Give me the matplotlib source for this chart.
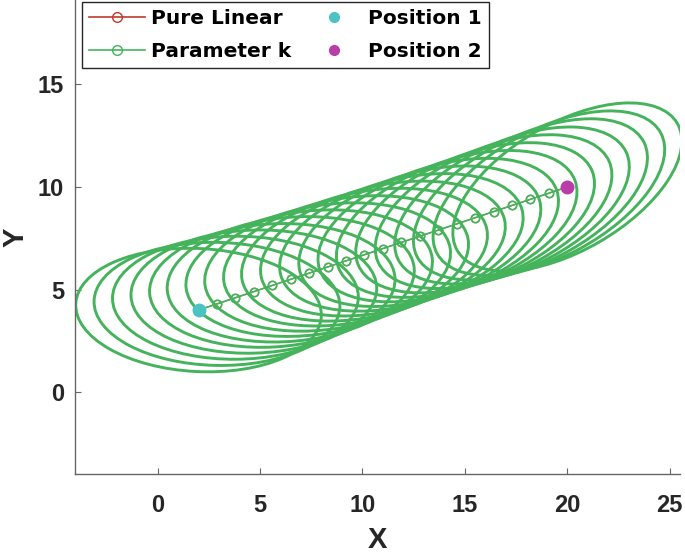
import numpy as np
import matplotlib
matplotlib.use("Agg")
import matplotlib.pyplot as plt
from matplotlib.patches import Ellipse
from matplotlib.lines import Line2D

plt.rcParams["font.family"] = ["Liberation Sans", "DejaVu Sans"]
plt.rcParams["font.weight"] = "bold"

# ellipse centres, from Position 1 to Position 2
cx = [2.0, 2.9, 3.8, 4.7, 5.6, 6.5, 7.4, 8.3, 9.2, 10.1, 11.0,
      11.9, 12.8, 13.7, 14.6, 15.5, 16.4, 17.3, 18.2, 19.1, 20.0]
cy = [4.0, 4.3, 4.6, 4.9, 5.2, 5.5, 5.8, 6.1, 6.4, 6.7, 7.0,
      7.3, 7.6, 7.9, 8.2, 8.5, 8.8, 9.1, 9.4, 9.7, 10.0]
# semi axes and tilt (deg) of each ellipse, estimated
semi_a = [6.0, 6.0, 6.0, 6.0, 6.0, 6.05, 6.05, 6.05, 6.05, 6.1, 6.1,
          6.1, 6.1, 6.1, 6.15, 6.15, 6.15, 6.15, 6.2, 6.2, 6.2]
semi_b = [3.0, 3.0, 3.0, 3.0, 3.0, 3.02, 3.02, 3.03, 3.04, 3.05, 3.05,
          3.06, 3.07, 3.08, 3.08, 3.09, 3.1, 3.1, 3.1, 3.1, 3.1]
tilt = [-3.0, -1.3, 0.4, 2.0, 3.6, 5.3, 7.0, 8.6, 10.2, 11.9, 13.5,
        15.1, 16.8, 18.4, 20.1, 21.7, 23.4, 25.0, 26.7, 28.3, 30.0]

pos1 = (2.0, 4.0)
pos2 = (20.0, 10.0)

GREEN = "#45b35c"
RED = "#c0392b"
CYAN = "#4cc3c3"
MAGENTA = "#b93ca8"

fig = plt.figure(figsize=(6.85, 5.53), dpi=100)
ax = fig.add_axes([75 / 685, 1 - 474.3 / 553, 605 / 685, 474.3 / 553])

# pure linear path sits underneath and is hidden by the k-path
ax.plot(cx, cy, color=RED, lw=0.8, marker="o", ms=6, mfc="none",
        mec=RED, mew=0.8, zorder=1)

for x, y, a, b, t in zip(cx, cy, semi_a, semi_b, tilt):
    ax.add_patch(Ellipse((x, y), 2 * a, 2 * b, angle=t, fill=False,
                         ec=GREEN, lw=2.1, zorder=2))

ax.plot(cx, cy, color=GREEN, lw=1.2, marker="o", ms=6,
        mfc="none", mec=GREEN, mew=1.2, zorder=3)
ax.plot(*pos1, "o", ms=9, color=CYAN, zorder=5)
ax.plot(*pos2, "o", ms=9, color=MAGENTA, zorder=5)

ax.set_xlim(-4.03, 25.5)
ax.set_ylim(-4.01, 19.12)
ax.set_xticks([0, 5, 10, 15, 20, 25])
ax.set_yticks([0, 5, 10, 15])
for s in ("top", "right"):
    ax.spines[s].set_visible(False)
for s in ("left", "bottom"):
    ax.spines[s].set_color("#666666")
    ax.spines[s].set_linewidth(1.0)
ax.tick_params(axis="x", direction="in", length=4, color="#666666",
               labelsize=17, labelcolor="#262626", pad=14)
ax.tick_params(axis="y", direction="in", length=4, color="#666666",
               labelsize=17, labelcolor="#262626", pad=8)
ax.set_xlabel("X", fontsize=21, fontweight="bold", color="#262626", labelpad=7)
ax.set_ylabel("Y", fontsize=21, fontweight="bold", color="#262626", labelpad=6)

handles = [
    Line2D([], [], color=RED, lw=1.2, marker="o", ms=7, mfc="none", mec=RED),
    Line2D([], [], color=GREEN, lw=1.2, marker="o", ms=7, mfc="none", mec=GREEN),
    Line2D([], [], ls="none", marker="o", ms=7, color=CYAN),
    Line2D([], [], ls="none", marker="o", ms=7, color=MAGENTA),
]
labels = ["Pure Linear", "Parameter k", "Position 1", "Position 2"]
leg = fig.legend(handles, labels, ncol=2, loc="upper left",
                 bbox_to_anchor=(82 / 685, 1 - 2 / 553), borderaxespad=0,
                 prop={"family": "DejaVu Sans", "weight": "bold", "size": 14.5},
                 handlelength=2.8, handletextpad=0.3,
                 columnspacing=0.7, labelspacing=0.7, borderpad=0.35,
                 fancybox=False, edgecolor="#262626", framealpha=1)
leg.get_frame().set_linewidth(1.0)

fig.savefig("out.png", dpi=100, facecolor="white")
